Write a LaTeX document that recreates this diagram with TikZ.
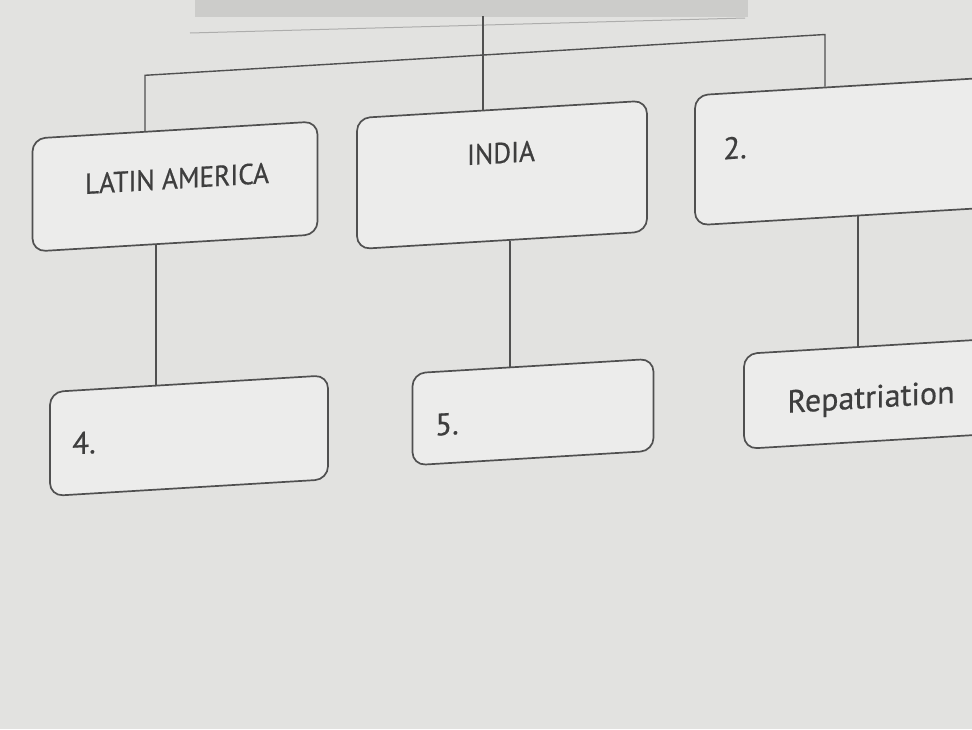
\documentclass[tikz,border=0pt]{standalone}
\usepackage{fontspec}
\setmainfont{PT Sans}
\newfontfamily\capsfont[FakeStretch=0.94,FakeBold=0.6]{PT Sans}
\newfontfamily\wordfont[FakeBold=0.5]{PT Sans}
\definecolor{paper}{RGB}{226,226,224}
\definecolor{ink}{RGB}{80,80,80}
\definecolor{txt}{RGB}{62,62,62}
\definecolor{hdr}{RGB}{204,204,202}
\begin{document}
\begin{tikzpicture}[x=1pt,y=-1pt,
  box/.style={draw=ink, line width=1.7pt, rounded corners=13pt, fill=paper!65!white,
              inner sep=0pt, minimum width=#1},
  conn/.style={draw=ink, line width=1.4pt},
  capstxt/.style={text=txt, font=\capsfont\fontsize{29}{31}\selectfont, inner sep=0pt},
  numtxt/.style={text=txt, font=\wordfont\fontsize{31}{33}\selectfont, inner sep=0pt},
  wordtxt/.style={text=txt, font=\wordfont\fontsize{32}{34}\selectfont, inner sep=0pt}]
\useasboundingbox (0,0) rectangle (972,729);
\fill[paper] (0,0) rectangle (972,729);
\clip (0,0) rectangle (972,729);
% header box at top (cut off)
\node[fill=hdr, inner sep=0pt, minimum width=553pt, minimum height=40pt] (top) at (471,-3) {};
\draw[hdr!85!black, line width=1pt] (190,33) -- (745,18);
\begin{scope}[yslant=0.06, transform shape]
  % first-level boxes
  \node[box=285pt, minimum height=113pt] (la) at (175,197) {};
  \node[box=290pt, minimum height=131pt] (in) at (502,205) {};
  \node[box=310pt, minimum height=130pt] (b2) at (850,202) {};
  % second-level boxes
  \node[box=278pt, minimum height=104pt] (b4) at (189,447) {};
  \node[box=241pt, minimum height=92pt]  (b5) at (533,444) {};
  \node[box=256pt, minimum height=95pt]  (rp) at (872,446) {};
  % texts
  \node[capstxt] (tla) at (177,189) {LATIN AMERICA};
  \node[capstxt] (tin) at (501,183) {INDIA};
  \node[numtxt]  (t2)  at (735,192) {2.};
  \node[numtxt]  (t4)  at (84,448)  {4.};
  \node[numtxt]  (t5)  at (447,451) {5.};
  \node[wordtxt] (trp) at (871,452) {Repatriation};
  % connectors
  \coordinate (bar) at (483,84);
  \draw[conn] (top.south -| bar) -- (in.north -| bar);
  \draw[conn] (la.north -| 145,0) |- (bar) -| (b2.north -| 825,0);
  \draw[conn] (la.south -| 156,0) -- (b4.north -| 156,0);
  \draw[conn] (in.south -| 510,0) -- (b5.north -| 510,0);
  \draw[conn] (b2.south -| 858,0) -- (rp.north -| 858,0);
\end{scope}
\end{tikzpicture}
\end{document}
